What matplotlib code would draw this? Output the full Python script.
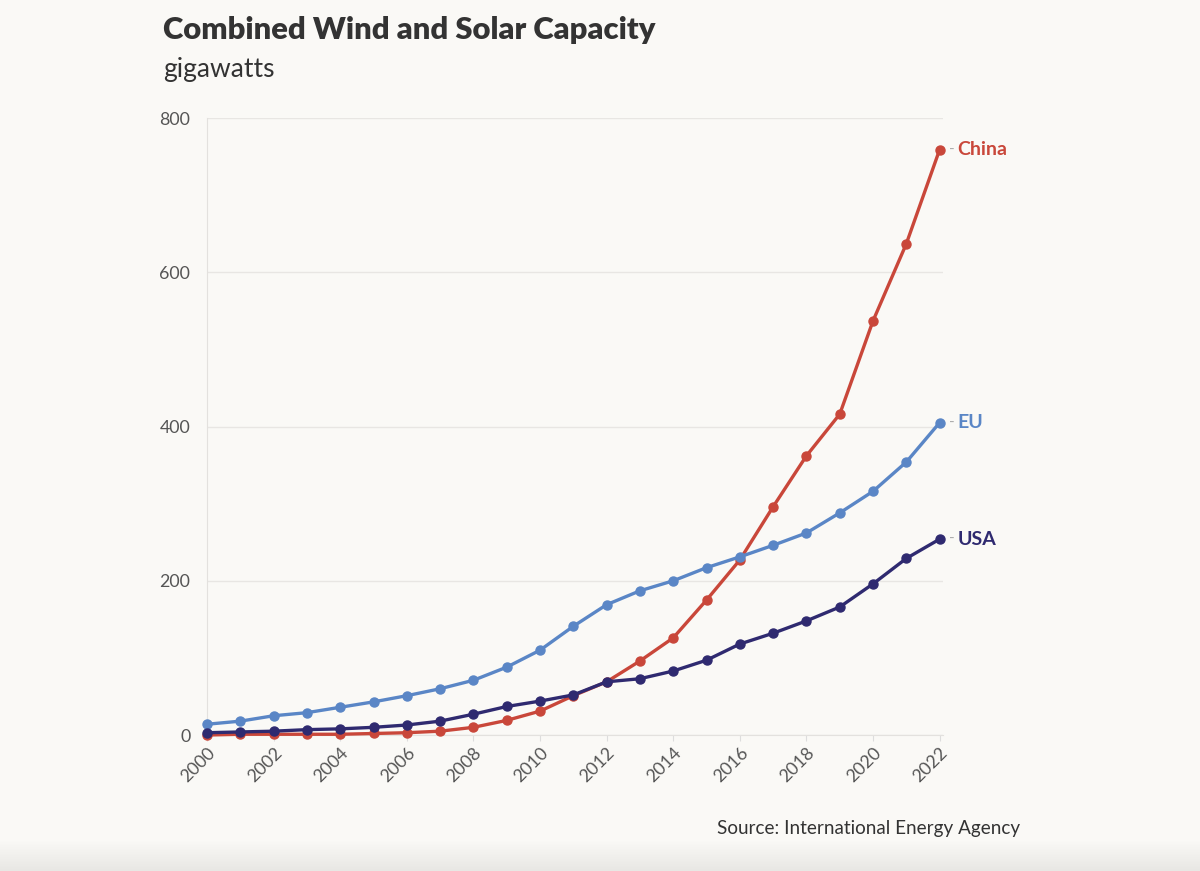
import matplotlib.pyplot as plt
import numpy as np

years = list(range(2000, 2023))
china = [0, 1, 1, 1, 1, 2, 3, 5, 10, 19, 31, 51, 69, 96, 126, 175, 227, 296, 362, 416, 537, 637, 759]
eu = [14, 18, 25, 29, 36, 43, 51, 60, 71, 88, 110, 141, 169, 187, 200, 217, 231, 246, 262, 288, 316, 354, 405]
usa = [3, 4, 5, 7, 8, 10, 13, 18, 27, 37, 44, 52, 69, 73, 83, 97, 118, 132, 148, 166, 196, 229, 254]

series = [("China", china, "#c9473a"), ("EU", eu, "#5a86c6"), ("USA", usa, "#2f2a70")]
yticks = [0, 200, 400, 600, 800]
xticks = list(range(2000, 2023, 2))

plt.rcParams['font.family'] = ['Lato', 'DejaVu Sans']
bg = "#faf9f6"

fig = plt.figure(figsize=(12, 8.71), dpi=100, facecolor=bg)

# faint shading at the very bottom of the page
shade = fig.add_axes([0, 0, 1, 0.035])
top_c = np.array([250, 249, 246]) / 255
bot_c = np.array([232, 231, 228]) / 255
t = np.linspace(0, 1, 40).reshape(-1, 1, 1)
grad = top_c * (1 - t) + bot_c * t
shade.imshow(grad, aspect='auto', extent=[0, 1, 0, 1])
shade.axis('off')

ax = fig.add_axes([0.1725, 0.1561, 0.6133, 0.7084], facecolor=bg)

for name, vals, col in series:
    ax.plot(years, vals, color=col, lw=2.4, marker='o', ms=6.5, clip_on=False, zorder=3)
    ax.annotate("-", (years[-1], vals[-1]), xytext=(7, 0), textcoords='offset points',
                va='center', ha='left', color='#aaaaaa', fontsize=11)
    ax.annotate(name, (years[-1], vals[-1]), xytext=(13, 0), textcoords='offset points',
                va='center', ha='left', color=col, fontsize=14, fontweight='bold')

ax.set_xlim(2000, 2022.1)
ax.set_ylim(0, 800)
ax.set_yticks(yticks)
ax.set_xticks(xticks)
ax.set_xticklabels([str(x) for x in xticks], rotation=45, ha='right', rotation_mode='anchor')
ax.tick_params(axis='both', colors='#555555', labelsize=12.8)
ax.tick_params(axis='y', length=0, pad=12)
ax.tick_params(axis='x', length=4, color='#dddddd', pad=3)
ax.grid(axis='y', color='#e8e6e3', lw=1)
ax.set_axisbelow(True)
for s in ['top', 'right']:
    ax.spines[s].set_visible(False)
ax.spines['left'].set_color('#e3e1de')
ax.spines['bottom'].set_color('#e3e1de')

fig.text(0.136, 0.955, "Combined Wind and Solar Capacity", fontsize=22.3, fontweight='heavy',
         color='#333333', va='baseline')
fig.text(0.136, 0.912, "gigawatts", fontsize=19, color='#333333', va='baseline')
fig.text(0.85, 0.043, "Source: International Energy Agency", fontsize=13.6, color='#333333',
         ha='right', va='baseline')

fig.savefig("out.png", dpi=100, facecolor=bg)
